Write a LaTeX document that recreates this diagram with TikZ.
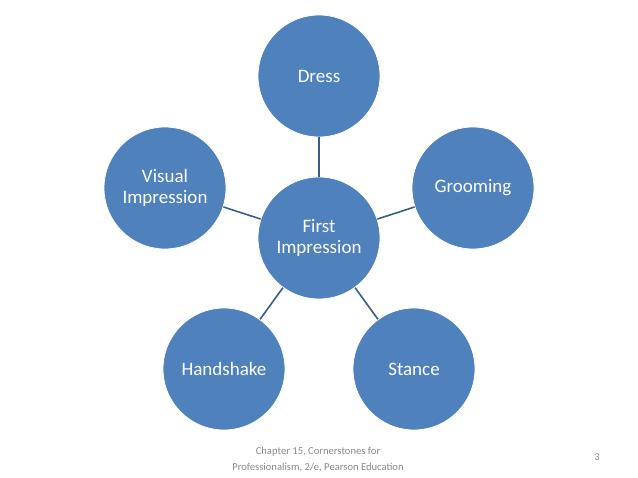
\documentclass[tikz,border=0pt]{standalone}
\usepackage{fontspec}
\setmainfont{Carlito}
\usetikzlibrary{calc}

\definecolor{bubble}{RGB}{79,129,189}
\definecolor{spoke}{RGB}{56,93,138}
\definecolor{footgray}{RGB}{137,137,137}

\tikzset{
  bubble/.style={circle,fill=bubble,draw=white,line width=0.8pt,minimum size=122pt,
    inner sep=0pt,text=white,align=center,font=\fontsize{19}{21}\selectfont},
  spoke/.style={draw=spoke,line width=1.6pt},
  foot/.style={text=footgray,align=center,font=\fontsize{10.6}{16}\selectfont}
}

\begin{document}
\begin{tikzpicture}[x=1pt,y=-1pt]
\useasboundingbox (0,0) rectangle (638,478);
\coordinate (O) at (319,238);
\node[bubble] (first) at (O) {First\\Impression};
\node[bubble] (dress) at ($ (O)+(0,-162) $) {Dress};
\node[bubble] (groom) at ($ (O)+(154,-50) $) {Grooming};
\node[bubble] (stance) at ($ (O)+(95,131) $) {Stance};
\node[bubble] (shake) at ($ (O)+(-95,131) $) {Handshake};
\node[bubble] (visual) at ($ (O)+(-154,-50) $) {Visual\\Impression};

\draw[spoke] (first)--(dress);
\draw[spoke] (first)--(groom);
\draw[spoke] (first)--(stance);
\draw[spoke] (first)--(shake);
\draw[spoke] (first)--(visual);

\node[foot] (source) at (318,459) {Chapter 15, Cornerstones for\\Professionalism, 2/e, Pearson Education};
\node[foot] (page) at (597,457) {3};
\end{tikzpicture}
\end{document}
